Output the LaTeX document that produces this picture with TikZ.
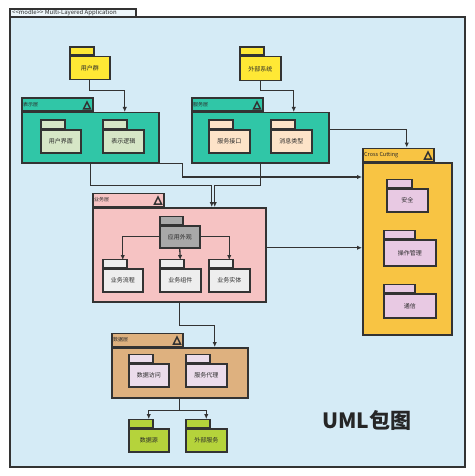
\documentclass[tikz,border=0pt]{standalone}
\usepackage{fontspec}
\setmainfont{Noto Sans CJK SC}
\usetikzlibrary{arrows.meta,calc}

\definecolor{fondo}{HTML}{D5EBF6}
\definecolor{linea}{HTML}{333333}
\definecolor{texto}{HTML}{2A2A2A}
\definecolor{amarillo}{HTML}{FFE835}
\definecolor{turquesa}{HTML}{30C6A7}
\definecolor{verdeclaro}{HTML}{D6E6C6}
\definecolor{durazno}{HTML}{FDE3C8}
\definecolor{naranja}{HTML}{F8C443}
\definecolor{lila}{HTML}{E8C9E3}
\definecolor{rosa}{HTML}{F6C3C3}
\definecolor{gris}{HTML}{A8A8A8}
\definecolor{grisclaro}{HTML}{EEEEEE}
\definecolor{canela}{HTML}{DEB17F}
\definecolor{lilaclaro}{HTML}{EBDCEB}
\definecolor{oliva}{HTML}{B5D33B}

\tikzset{
	paq/.style={draw=linea, line width=1.5pt, inner sep=0pt, anchor=north west, text=texto, font=\fontsize{6}{7}\selectfont},
	pestana/.style={draw=linea, line width=1.5pt, inner sep=0pt, anchor=south west},
	rotulo/.style={text=texto, inner sep=1pt, anchor=west, font=\fontsize{5}{6}\selectfont},
	flecha/.style={draw=linea, line width=1.3pt, -{Latex[length=5pt,width=4.5pt]}}
}

% paquete: nombre, x, y, ancho, alto, ancho pestana, relleno, texto
\newcommand{\paquete}[8]{
	\node[paq, fill=#7, minimum width=#4pt, minimum height=#5pt] (#1) at (#2,#3) {#8};
	\node[pestana, fill=#7, minimum width=#6pt, minimum height=8pt] (#1-tab) at (#1.north west) {};
}

% capa: nombre, x, y, ancho, alto, relleno, rotulo
\newcommand{\capa}[7]{
	\node[paq, fill=#6, minimum width=#4pt, minimum height=#5pt] (#1) at (#2,#3) {};
	\node[pestana, fill=#6, minimum width=71pt, minimum height=13pt] (#1-tab) at (#1.north west) {};
	\node[rotulo] at ([xshift=1pt]#1-tab.west) {#7};
	\draw[draw=linea, line width=1.5pt] ([xshift=-10pt,yshift=3pt]#1-tab.south east) -- ++(7,0) -- ++(-3.5,-7) -- cycle;
}

\begin{document}
\begin{tikzpicture}[x=1pt, y=-1pt]
	\useasboundingbox (0,0) rectangle (474,476);
	\fill[white] (0,0) rectangle (474,476);

	% Marco
	\draw[draw=linea, line width=1.6pt, fill=fondo] (10,17) rectangle (465,467);
	\draw[draw=linea, line width=1.4pt, fill=white!60!fondo] (10,9) rectangle (136,17);
	\node[rotulo, font=\fontsize{6}{7}\selectfont] at (11,13) {{<}{<}modle{>}{>} Multi-Layered Application};

	% Capas
	\capa{presentacion}{21}{112}{137}{50}{turquesa}{表示层}
	\capa{servicios}{191}{112}{137}{50}{turquesa}{服务层}
	\capa{transversal}{362}{162}{89}{172}{naranja}{\fontsize{5.5}{6}\selectfont Cross Cutting}
	\capa{negocio}{92}{207}{173}{94}{rosa}{业务层}
	\capa{datos}{111}{347}{136}{50}{canela}{数据层}

	% Paquetes externos
	\paquete{usuarios}{69}{56}{40}{23}{24}{amarillo}{用户群}
	\paquete{externo}{239}{56}{41}{24}{24}{amarillo}{外部系统}

	% Presentacion y servicios
	\paquete{ui}{40}{129}{40}{23}{24}{verdeclaro}{用户界面}
	\paquete{logica}{102}{129}{41}{23}{24}{verdeclaro}{表示逻辑}
	\paquete{interfaz}{208}{129}{41}{23}{24}{durazno}{服务接口}
	\paquete{mensajes}{270}{129}{41}{23}{24}{durazno}{消息类型}

	% Cross Cutting
	\paquete{seguridad}{386}{188}{41}{23}{25}{lila}{安全}
	\paquete{operacion}{383}{239}{52}{26}{31}{lila}{操作管理}
	\paquete{comunicacion}{383}{293}{52}{24}{31}{lila}{通信}

	% Negocio
	\paquete{fachada}{159}{225}{40}{22}{23}{gris}{应用外观}
	\paquete{flujo}{102}{268}{40}{23}{24}{grisclaro}{业务流程}
	\paquete{componentes}{159}{268}{41}{23}{24}{grisclaro}{业务组件}
	\paquete{entidades}{208}{268}{41}{23}{24}{grisclaro}{业务实体}

	% Datos
	\paquete{acceso}{128}{363}{40}{23}{24}{lilaclaro}{数据访问}
	\paquete{agentes}{185}{363}{41}{23}{24}{lilaclaro}{服务代理}
	\paquete{fuentes}{128}{428}{40}{23}{24}{oliva}{数据源}
	\paquete{externos}{185}{428}{41}{23}{24}{oliva}{外部服务}

	% Dependencias
	\draw[flecha] (usuarios.south) -- ++(0,10) -| ([xshift=34.5pt]presentacion.north);
	\draw[flecha] (externo.south) -- ++(0,9) -| ([xshift=33.5pt]servicios.north);
	\draw[flecha] (presentacion.south) -- ++(0,22) -| ([xshift=32.5pt]negocio.north);
	\draw[flecha] (servicios.south) -- ++(0,22) -| ([xshift=35.5pt]negocio.north);
	\draw[flecha] (presentacion.south east) -- ++(23,0) |- ([yshift=-15pt]transversal.north west);
	\draw[flecha] ([yshift=8pt]servicios.east) -| ([xshift=8.5pt]transversal-tab.north);
	\draw[flecha] ([yshift=7pt]negocio.east) -- ([yshift=7pt]negocio.east -| transversal.west);

	\draw[flecha] (fachada.west) -| ([yshift=8pt]flujo.north);
	\draw[flecha] (fachada.south) -- ([yshift=8pt]componentes.north);
	\draw[flecha] (fachada.east) -| ([yshift=8pt]entidades.north);

	\draw[flecha] (negocio.south) -- ++(0,23) -| ([xshift=35pt]datos.north);
	\draw (datos.south) [draw=linea, line width=1.3pt] -- ++(0,12) coordinate (bif);
	\draw[flecha] (bif) -| ([yshift=9pt]fuentes.north);
	\draw[flecha] (bif) -| ([yshift=9pt]externos.north);

	% Titulo
	\node[text=black!85, font=\fontsize{21}{24}\selectfont\bfseries] (titulo) at (367,420) {UML包图};
\end{tikzpicture}
\end{document}
